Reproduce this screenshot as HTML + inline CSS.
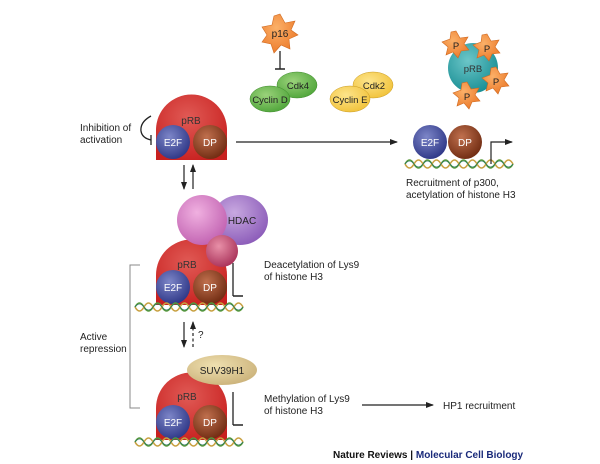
<!DOCTYPE html>
<html><head><meta charset="utf-8"><style>
html,body{margin:0;padding:0;background:#fff;}
svg{display:block;font-family:"Liberation Sans",sans-serif;}
</style></head><body>
<svg width="600" height="464" viewBox="0 0 600 464" xmlns="http://www.w3.org/2000/svg">
<defs>
<radialGradient id="red" cx="0.45" cy="0.35" r="0.7"><stop offset="0" stop-color="#e05a55"/><stop offset="1" stop-color="#c8201f"/></radialGradient>
<radialGradient id="blue" cx="0.4" cy="0.35" r="0.7"><stop offset="0" stop-color="#7d86c8"/><stop offset="1" stop-color="#2c3585"/></radialGradient>
<radialGradient id="brown" cx="0.4" cy="0.35" r="0.7"><stop offset="0" stop-color="#c0704e"/><stop offset="1" stop-color="#6e2a10"/></radialGradient>
<radialGradient id="green" cx="0.4" cy="0.35" r="0.7"><stop offset="0" stop-color="#9ad27a"/><stop offset="1" stop-color="#4fa53a"/></radialGradient>
<radialGradient id="yellow" cx="0.4" cy="0.35" r="0.7"><stop offset="0" stop-color="#fde48a"/><stop offset="1" stop-color="#f1c23a"/></radialGradient>
<radialGradient id="teal" cx="0.4" cy="0.35" r="0.7"><stop offset="0" stop-color="#6cc6c8"/><stop offset="1" stop-color="#178d93"/></radialGradient>
<radialGradient id="orange" cx="0.4" cy="0.35" r="0.7"><stop offset="0" stop-color="#fbb068"/><stop offset="1" stop-color="#ec7a2a"/></radialGradient>
<radialGradient id="pink" cx="0.4" cy="0.35" r="0.7"><stop offset="0" stop-color="#f0b0e0"/><stop offset="1" stop-color="#c060b0"/></radialGradient>
<radialGradient id="purple" cx="0.4" cy="0.35" r="0.7"><stop offset="0" stop-color="#c8a8e0"/><stop offset="1" stop-color="#8a5ab8"/></radialGradient>
<radialGradient id="rose" cx="0.4" cy="0.35" r="0.7"><stop offset="0" stop-color="#e890a8"/><stop offset="1" stop-color="#a83058"/></radialGradient>
<radialGradient id="tan" cx="0.4" cy="0.35" r="0.7"><stop offset="0" stop-color="#efe0b0"/><stop offset="1" stop-color="#cbb27a"/></radialGradient>
<marker id="ah" markerWidth="8" markerHeight="8" refX="7" refY="4" orient="auto" markerUnits="userSpaceOnUse"><path d="M0,1 L8,4 L0,7 Z" fill="#222"/></marker>
<g id="dna">
<path d="M0,4 q4.5,-8 9,0 t9,0 t9,0 t9,0 t9,0 t9,0 t9,0 t9,0 t9,0 t9,0 t9,0 t9,0" fill="none" stroke="#5a9a3a" stroke-width="1.6"/>
<path d="M0,4 q4.5,8 9,0 t9,0 t9,0 t9,0 t9,0 t9,0 t9,0 t9,0 t9,0 t9,0 t9,0 t9,0" fill="none" stroke="#c8a040" stroke-width="1.6"/>
<path d="M0,4 q4.5,-6 9,0 t9,0 t9,0 t9,0 t9,0 t9,0 t9,0 t9,0 t9,0 t9,0 t9,0 t9,0" fill="none" stroke="#2c7a5a" stroke-width="0.8"/>
</g>
<g id="star13">
<polygon points="0,-14 4,-7 12,-8 8,-1 13,5 5,6 2,13 -3,7 -10,10 -8,2 -14,-3 -6,-6 -5,-13 0,-14" fill="url(#orange)" stroke="#d06a20" stroke-width="0.6"/>
</g>
</defs>

<!-- Top pRB complex -->
<path d="M156,160 V130 A35.5,35.5 0 0 1 227,130 V160 Z" fill="url(#red)"/>
<circle cx="173" cy="142" r="17" fill="url(#blue)"/>
<circle cx="210" cy="142" r="17" fill="url(#brown)"/>
<text x="191" y="124" font-size="10" fill="#333" text-anchor="middle">pRB</text>
<text x="173" y="146" font-size="10" fill="#fff" text-anchor="middle">E2F</text>
<text x="210" y="146" font-size="10" fill="#fff" text-anchor="middle">DP</text>
<text x="80" y="131" font-size="10" fill="#222">Inhibition of</text>
<text x="80" y="143" font-size="10" fill="#222">activation</text>
<path d="M151,116 Q140,122 141,131 Q142,138 151,140" fill="none" stroke="#222" stroke-width="1.3"/>
<line x1="151" y1="135" x2="151" y2="145" stroke="#222" stroke-width="1.3"/>

<line x1="236" y1="142" x2="397" y2="142" stroke="#222" stroke-width="1.2" marker-end="url(#ah)"/>

<!-- p16 and cyclins -->
<polygon points="280,14 285,23 295,21 291,30 298,35 289,39 290,49 281,45 274,53 271,44 262,42 267,35 262,27 272,25 274,16" fill="url(#orange)" stroke="#d06a20" stroke-width="0.6"/>
<text x="280" y="37" font-size="10" fill="#222" text-anchor="middle">p16</text>
<line x1="280" y1="51" x2="280" y2="69" stroke="#222" stroke-width="1.3"/>
<line x1="275" y1="69" x2="285" y2="69" stroke="#222" stroke-width="1.5"/>
<ellipse cx="297" cy="85" rx="20" ry="13" fill="url(#green)" stroke="#3d8a2a" stroke-width="0.5"/>
<ellipse cx="270" cy="99" rx="20" ry="13" fill="url(#green)" stroke="#3d8a2a" stroke-width="0.5"/>
<text x="298" y="89" font-size="9.5" fill="#222" text-anchor="middle">Cdk4</text>
<text x="270" y="103" font-size="9.5" fill="#222" text-anchor="middle">Cyclin D</text>
<ellipse cx="373" cy="85" rx="20" ry="13" fill="url(#yellow)" stroke="#c89a20" stroke-width="0.5"/>
<ellipse cx="350" cy="99" rx="20" ry="13" fill="url(#yellow)" stroke="#c89a20" stroke-width="0.5"/>
<text x="374" y="89" font-size="9.5" fill="#222" text-anchor="middle">Cdk2</text>
<text x="350" y="103" font-size="9.5" fill="#222" text-anchor="middle">Cyclin E</text>

<!-- phosphorylated pRB -->
<circle cx="473" cy="68" r="25" fill="url(#teal)"/>
<text x="473" y="72" font-size="9.5" fill="#333" text-anchor="middle">pRB</text>
<use href="#star13" x="456" y="45"/><text x="456" y="49" font-size="9.5" fill="#222" text-anchor="middle">P</text>
<use href="#star13" x="487" y="48"/><text x="487" y="52" font-size="9.5" fill="#222" text-anchor="middle">P</text>
<use href="#star13" x="496" y="81"/><text x="496" y="85" font-size="9.5" fill="#222" text-anchor="middle">P</text>
<use href="#star13" x="467" y="96"/><text x="467" y="100" font-size="9.5" fill="#222" text-anchor="middle">P</text>

<!-- active E2F/DP -->
<use href="#dna" x="405" y="160"/>
<circle cx="430" cy="142" r="17" fill="url(#blue)"/>
<circle cx="465" cy="142" r="17" fill="url(#brown)"/>
<text x="430" y="146" font-size="10" fill="#fff" text-anchor="middle">E2F</text>
<text x="465" y="146" font-size="10" fill="#fff" text-anchor="middle">DP</text>
<path d="M491,164 V142 H512" fill="none" stroke="#222" stroke-width="1.2" marker-end="url(#ah)"/>
<text x="406" y="186" font-size="10" fill="#222">Recruitment of p300,</text>
<text x="406" y="198" font-size="10" fill="#222">acetylation of histone H3</text>

<!-- arrows top-middle -->
<line x1="184" y1="165" x2="184" y2="189" stroke="#222" stroke-width="1.2" marker-end="url(#ah)"/>
<line x1="193" y1="189" x2="193" y2="165" stroke="#222" stroke-width="1.2" marker-end="url(#ah)"/>

<!-- middle complex -->
<path d="M156,305 V275 A35.5,35.5 0 0 1 227,275 V305 Z" fill="url(#red)"/>
<ellipse cx="240" cy="220" rx="28" ry="25" fill="url(#purple)"/>
<circle cx="202" cy="220" r="25" fill="url(#pink)"/>
<circle cx="222" cy="251" r="16" fill="url(#rose)"/>
<text x="242" y="224" font-size="10" fill="#222" text-anchor="middle">HDAC</text>
<circle cx="173" cy="287" r="17" fill="url(#blue)"/>
<circle cx="210" cy="287" r="17" fill="url(#brown)"/>
<text x="187" y="268" font-size="10" fill="#333" text-anchor="middle">pRB</text>
<text x="173" y="291" font-size="10" fill="#fff" text-anchor="middle">E2F</text>
<text x="210" y="291" font-size="10" fill="#fff" text-anchor="middle">DP</text>
<use href="#dna" x="135" y="303" />
<line x1="233" y1="263" x2="233" y2="296" stroke="#222" stroke-width="1.3"/>
<line x1="233" y1="296" x2="243" y2="296" stroke="#222" stroke-width="1.5"/>
<text x="264" y="268" font-size="10" fill="#222">Deacetylation of Lys9</text>
<text x="264" y="280" font-size="10" fill="#222">of histone H3</text>

<!-- bracket -->
<path d="M140,265 H130 V408 H140" fill="none" stroke="#888" stroke-width="1"/>
<text x="80" y="340" font-size="10" fill="#222">Active</text>
<text x="80" y="352" font-size="10" fill="#222">repression</text>

<line x1="184" y1="322" x2="184" y2="347" stroke="#222" stroke-width="1.2" marker-end="url(#ah)"/>
<line x1="193" y1="347" x2="193" y2="322" stroke="#222" stroke-width="1.2" stroke-dasharray="3,2.5" marker-end="url(#ah)"/>
<text x="198" y="338" font-size="10" fill="#222">?</text>

<!-- bottom complex -->
<path d="M156,440 V408 A35.5,35.5 0 0 1 227,408 V440 Z" fill="url(#red)"/>
<ellipse cx="222" cy="370" rx="35" ry="15" fill="url(#tan)"/>
<text x="222" y="374" font-size="10" fill="#222" text-anchor="middle">SUV39H1</text>
<circle cx="173" cy="422" r="17" fill="url(#blue)"/>
<circle cx="210" cy="422" r="17" fill="url(#brown)"/>
<text x="187" y="400" font-size="10" fill="#333" text-anchor="middle">pRB</text>
<text x="173" y="426" font-size="10" fill="#fff" text-anchor="middle">E2F</text>
<text x="210" y="426" font-size="10" fill="#fff" text-anchor="middle">DP</text>
<use href="#dna" x="135" y="438"/>
<line x1="233" y1="392" x2="233" y2="425" stroke="#222" stroke-width="1.3"/>
<line x1="233" y1="425" x2="243" y2="425" stroke="#222" stroke-width="1.5"/>
<text x="264" y="402" font-size="10" fill="#222">Methylation of Lys9</text>
<text x="264" y="414" font-size="10" fill="#222">of histone H3</text>
<line x1="362" y1="405" x2="433" y2="405" stroke="#222" stroke-width="1.2" marker-end="url(#ah)"/>
<text x="443" y="409" font-size="10" fill="#222">HP1 recruitment</text>

<text x="333" y="458" font-size="10" font-weight="bold" fill="#111">Nature Reviews <tspan fill="#111">|</tspan> <tspan fill="#1a2a7a">Molecular Cell Biology</tspan></text>
</svg>
</body></html>
